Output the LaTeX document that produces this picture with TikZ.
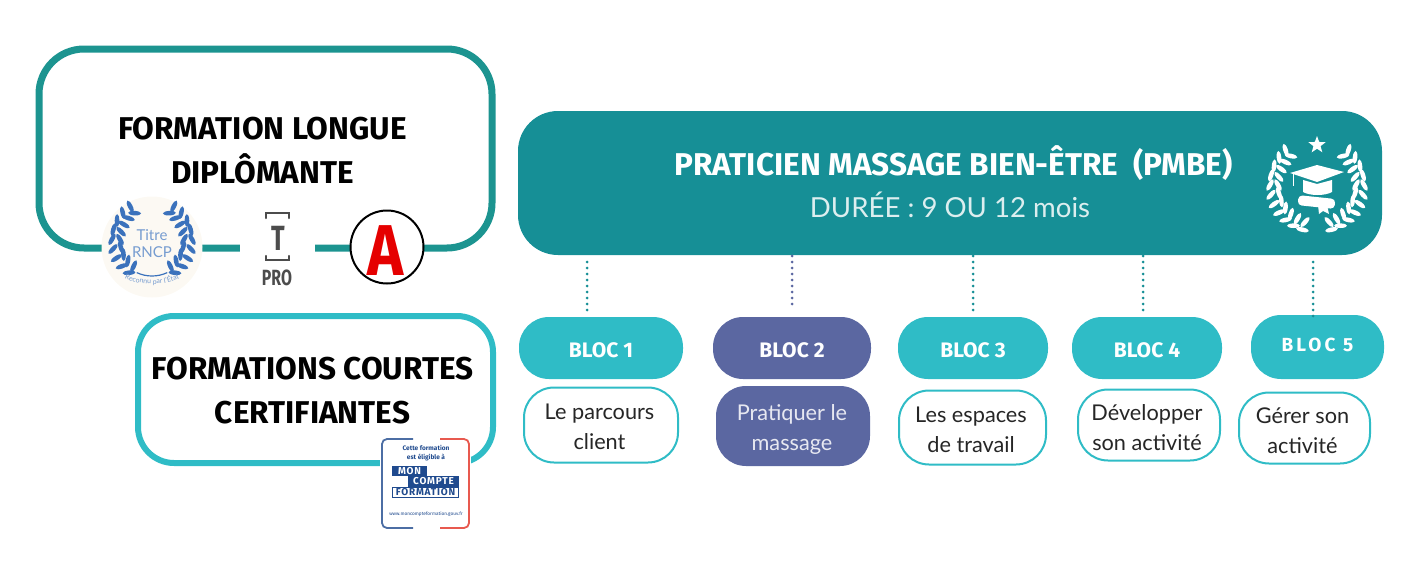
\documentclass[tikz,border=0pt]{standalone}
\usepackage{fontspec}
\setmainfont{Fira Sans}
\newfontfamily\lightfont{Lato}
\usetikzlibrary{shapes.geometric, decorations.text}

\definecolor{tealdark}{HTML}{168F96}
\definecolor{tealframe}{HTML}{1C9490}
\definecolor{teallight}{HTML}{2FBCC6}
\definecolor{indigobloc}{HTML}{5B67A1}
\definecolor{rncpblue}{HTML}{3B72BC}
\definecolor{creamdisc}{HTML}{FCF9F3}
\definecolor{mcfblue}{HTML}{1F4A8E}
\definecolor{mcfred}{HTML}{E8594F}

\newcommand{\fs}[2]{\fontsize{#1}{#2}\selectfont}

\tikzset{
    frametext/.style={font=\bfseries\fs{31.5}{44}, align=center, text=black},
    bloc/.style={fill=teallight, rounded corners=30pt, text=white, font=\bfseries\fs{21}{24}, minimum height=62pt, text height=18pt, text depth=0pt},
    desc/.style={draw=teallight, line width=2pt, fill=white, rounded corners=30pt},
    desctext/.style={align=center, font=\lightfont\fs{21.7}{30}, text=black!85},
    link/.style={tealdark, line width=3pt, line cap=round, dash pattern=on 0pt off 6pt}
}

% half of a laurel wreath: #1 colour, #2 radius, #3 list of angles
\newcommand{\laurel}[3]{
    \foreach \a in {#3} {
        \fill[#1, shift={(\a:#2+4)}, rotate=\a-60] (0,0) ellipse (6.5 and 2.3);
        \fill[#1, shift={(\a:#2-4)}, rotate=\a+60] (0,0) ellipse (6.5 and 2.3);
    }
}

\begin{document}
\begin{tikzpicture}[x=1pt,y=-1pt]
\useasboundingbox (0,0) rectangle (1416,570);

% Frame for the long course
\node[draw=tealframe, line width=7pt, rounded corners=45pt, minimum width=453pt, minimum height=199pt] (longue) at (265.5,148.5) {};
\node[frametext] (longuetext) at (262.5,150.5) {FORMATION LONGUE\\DIPLÔMANTE};

% Frame for the short courses
\node[draw=teallight, line width=6pt, rounded corners=36pt, minimum width=355pt, minimum height=147pt] (courtes) at (315.5,389.5) {};
\node[frametext] (courtestext) at (312.5,391) {FORMATIONS COURTES\\CERTIFIANTES};

% Titre RNCP badge
\node[circle, fill=creamdisc, minimum size=101pt, inner sep=0pt] (rncp) at (152,247) {};
\begin{scope}[shift={(152,240)}]
    \laurel{rncpblue}{36}{55,41,27,13,-1,-15,-29,-43,-57}
    \begin{scope}[xscale=-1]
        \laurel{rncpblue}{36}{55,41,27,13,-1,-15,-29,-43,-57}
    \end{scope}
    \draw[rncpblue, line width=1.2pt] (65:36) arc (65:115:36);
\end{scope}
\node[text=rncpblue!70, font=\lightfont\fs{15}{17}, align=center] (rncptext) at (152,244) {Titre\\RNCP};
\path[decorate, decoration={text along path, text align=center, text={|\lightfont\fs{7}{8}\color{rncpblue!70}|Reconnu par l'État}}] (113,272) .. controls (135,288) and (170,288) .. (191,272);

% T PRO logo
\node[fill=white, minimum width=75pt, minimum height=15pt, inner sep=0pt] (tgap) at (277.5,248) {};
\node[text=black!70, font=\bfseries\fs{35}{35}, inner sep=0pt] (tletter) at (278,238) {\scalebox{0.72}[1]{T}};
\node[text=black!70, font=\bfseries\fs{22}{22}, inner sep=0pt] (pro) at (277,278) {\scalebox{0.72}[1]{PRO}};
\draw[black!70, line width=2.5pt, line cap=round] (266,218) -- (266,213) -- (289,213) -- (289,218);
\draw[black!70, line width=2.5pt, line cap=round] (266,256) -- (266,260) -- (289,260) -- (289,256);

% A badge
\node[circle, draw=black, line width=2pt, fill=white, minimum size=73pt, inner sep=0pt] (abadge) at (387,247) {};
\node[text=red!90!black, font=\bfseries\fs{72}{72}, inner sep=0pt] (aletter) at (386,251) {\scalebox{0.85}[1]{A}};

% Mon Compte Formation logo
\node[fill=white, minimum width=91pt, minimum height=92pt, inner sep=0pt] (mcf) at (425.5,483) {};
\draw[mcfblue!80, line width=1.8pt, rounded corners=5pt] (413,439) -- (382,439) -- (382,528) -- (413,528);
\draw[mcfred, line width=1.8pt, rounded corners=5pt] (440,439) -- (469,439) -- (469,528) -- (440,528);
\node[text=mcfblue, font=\bfseries\fs{6.5}{8.5}, align=center, inner sep=0pt] (mcftop) at (426,453) {Cette formation\\est éligible à};
\node[fill=mcfblue, text=white, font=\bfseries\fs{10}{10}\addfontfeature{LetterSpace=8}, minimum width=35pt, minimum height=10.5pt, inner sep=0pt] (mcfmon) at (409.5,471) {MON};
\node[fill=mcfblue, text=white, font=\bfseries\fs{10}{10}\addfontfeature{LetterSpace=8}, minimum width=51pt, minimum height=10.5pt, inner sep=0pt] (mcfcompte) at (433.5,481.5) {COMPTE};
\node[draw=mcfblue, line width=1pt, fill=white, text=mcfblue, font=\bfseries\fs{10}{10}\addfontfeature{LetterSpace=8}, minimum width=66pt, minimum height=10pt, inner sep=0pt] (mcfformation) at (425.5,492.5) {FORMATION};
\node[text=mcfblue, font=\fs{4.7}{6}, inner sep=0pt] (mcfurl) at (426,514) {www.moncompteformation.gouv.fr};

% Main banner
\node[fill=tealdark, rounded corners=40pt, minimum width=864pt, minimum height=144pt] (banner) at (950,183) {};
\node[text=white, font=\bfseries\fs{31.5}{32}] (title) at (953.5,163) {PRATICIEN MASSAGE BIEN-ÊTRE~ (PMBE)};
\node[text=white!85!tealdark, font=\lightfont\fs{27.6}{32}] (duree) at (950,205) {DURÉE : 9 OU 12 mois};

% Graduation emblem
\begin{scope}[shift={(1317,185)}]
    \laurel{white}{43}{72,60,48,36,24,12,0,-12,-24,-36,-48}
    \begin{scope}[xscale=-1]
        \laurel{white}{43}{72,60,48,36,24,12,0,-12,-24,-36,-48}
    \end{scope}
\end{scope}
\node[star, star points=5, star point ratio=2.4, fill=white, minimum size=18pt, inner sep=0pt] (emblemstar) at (1317,145) {};
\fill[white] (1303,180) -- (1317,184) -- (1332,180) -- (1332,192) .. controls (1325,196) and (1310,196) .. (1303,192) -- cycle;
\fill[white] (1290,173) -- (1317,165) -- (1344,172) -- (1317,182) -- cycle;
\draw[white, line width=1pt] (1293,174) -- (1293,186);
\fill[white, rounded corners=4pt, rotate around={-6:(1316,202)}] (1298,197) rectangle (1335,207);
\fill[white] (1318,205) -- (1327,205) -- (1329,214) -- (1323,211) -- (1319,214) -- cycle;

% Blocs
\node[bloc, minimum width=164pt] (bloc1) at (601,348) {BLOC 1};
\node[bloc, minimum width=158pt, fill=indigobloc] (bloc2) at (792,348) {BLOC 2};
\node[bloc, minimum width=150pt] (bloc3) at (973,348) {BLOC 3};
\node[bloc, minimum width=150pt] (bloc4) at (1147,348) {BLOC 4};
\node[bloc, minimum width=133pt, minimum height=64pt, text height=9pt, font=\bfseries\fs{19}{24}\addfontfeature{LetterSpace=16}] (bloc5) at (1317.5,347) {BLOC 5};

% Descriptions
\node[desc, minimum width=154pt, minimum height=75pt] (desc1) at (601,425) {};
\node[desc, minimum width=154pt, minimum height=80pt, draw=none, fill=indigobloc] (desc2) at (793,426) {};
\node[desc, minimum width=147pt, minimum height=74pt] (desc3) at (972.5,427.5) {};
\node[desc, minimum width=142pt, minimum height=71pt] (desc4) at (1149,425) {};
\node[desc, minimum width=131pt, minimum height=71pt] (desc5) at (1304.5,428) {};
\node[desctext] (desc1text) at (599.5,427) {Le parcours\\client};
\node[desctext, text=white!85!indigobloc] (desc2text) at (792,429) {Pratiquer le\\massage};
\node[desctext] (desc3text) at (971,430) {Les espaces\\de travail};
\node[desctext] (desc4text) at (1147,427.5) {Développer\\son activité};
\node[desctext] (desc5text) at (1302.5,430.5) {Gérer son\\activité};

% Dotted links from the banner down to the blocs
\coordinate (top1) at (587,262);
\coordinate (top2) at (792,256);
\coordinate (top3) at (973,256);
\coordinate (top4) at (1143,256);
\coordinate (top5) at (1313,262);
\coordinate (end1) at (587,311);
\coordinate (end2) at (792,309);
\coordinate (end3) at (973,312);
\coordinate (end4) at (1143,311);
\coordinate (end5) at (1313,316);
\draw[link] (top1) -- (end1);
\draw[link, indigobloc] (top2) -- (end2);
\draw[link] (top3) -- (end3);
\draw[link] (top4) -- (end4);
\draw[link] (top5) -- (end5);
\end{tikzpicture}
\end{document}
